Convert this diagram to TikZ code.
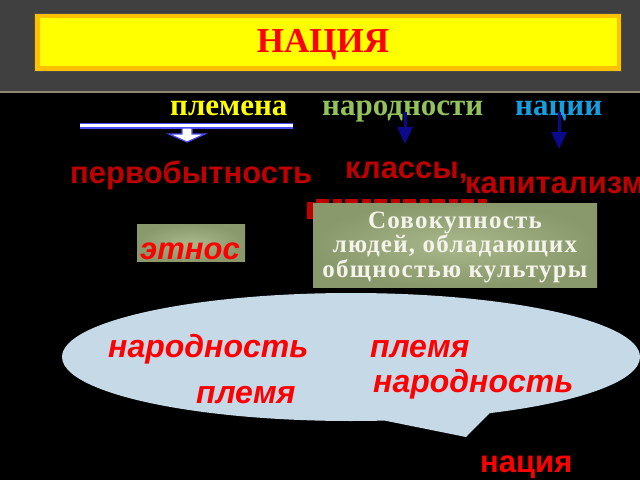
\documentclass[tikz,border=0pt]{standalone}
\usepackage{fontspec}
\setmainfont{Liberation Serif}
\newfontfamily\sansfont{Liberation Sans}
\newfontfamily\boxfont[LetterSpace=5]{Liberation Serif}
\usetikzlibrary{positioning, shapes.callouts, arrows.meta}

\definecolor{darkred}{HTML}{C00000}
\definecolor{titleorange}{HTML}{FFC000}
\definecolor{bggrey}{HTML}{404040}
\definecolor{seamline}{HTML}{8C8672}
\definecolor{tribeyellow}{HTML}{FFFF00}
\definecolor{peoplegreen}{HTML}{92C35A}
\definecolor{nationblue}{HTML}{14A0E0}
\definecolor{arrowblue}{HTML}{0A0A8C}
\definecolor{boxlight}{HTML}{A9B88B}
\definecolor{boxdark}{HTML}{8A996C}
\definecolor{boxtext}{HTML}{F4F4EC}
\definecolor{bubbleblue}{HTML}{C6D9E7}

\tikzstyle{topword} = [font=\bfseries\fontsize{31}{31}\selectfont, inner sep=0pt, anchor=base west]
\tikzstyle{eraword} = [text=darkred, font=\sansfont\bfseries\fontsize{31}{31}\selectfont, inner sep=0pt, anchor=base west]
\tikzstyle{bubbleword} = [text=red, font=\sansfont\bfseries\itshape\fontsize{32}{32}\selectfont, inner sep=0pt, anchor=base west]
\tikzstyle{greenbox} = [rectangle, inner color=boxlight, outer color=boxdark, inner sep=0pt, outer sep=0pt]
\tikzstyle{bluearrow} = [draw=arrowblue, line width=3pt, -{Triangle[width=15pt, length=17pt]}]

\begin{document}
\begin{tikzpicture}[x=1pt, y=-1pt]
    \useasboundingbox (0, 0) rectangle (640, 480);
    \fill[black] (0, 0) rectangle (640, 480);
    \fill[bggrey] (0, 0) rectangle (640, 91);
    \draw[seamline, line width=2pt] (0, 92) -- (640, 92);

    % title
    \node[rectangle, draw=black!70, line width=0.5pt, fill=titleorange, minimum width=587pt, minimum height=58pt] (titlebox) at (328, 42) {};
    \node[rectangle, fill=tribeyellow, minimum width=577pt, minimum height=48pt] at (titlebox) {};
    \node[text=red, font=\bfseries\fontsize{35}{35}\selectfont, inner sep=0pt] (title) at (323, 45) {НАЦИЯ};

    % forms of community
    \node[topword, text=tribeyellow] (tribes) at (170, 115) {племена};
    \node[topword, text=peoplegreen] (peoples) at (322, 115) {народности};
    \node[topword, text=nationblue] (nations) at (515, 115) {нации};

    \coordinate (barleft) at (80, 125.5);
    \coordinate (barright) at (293, 125.5);
    \draw[blue!70, line width=6pt] (barleft) -- (barright);
    \draw[white, line width=3pt] (barleft) -- (barright);
    \filldraw[fill=white, draw=blue!70, line width=1.2pt] (182, 128) -- (192, 128) -- (192, 134) -- (205, 134) -- (187, 142) -- (169, 134) -- (182, 134) -- cycle;

    \coordinate (peoplestart) at (405, 112);
    \coordinate (peopleend) at (405, 144);
    \coordinate (nationstart) at (559, 112);
    \coordinate (nationend) at (559, 149);
    \draw[bluearrow] (peoplestart) -- (peopleend);
    \draw[bluearrow] (nationstart) -- (nationend);

    % epochs
    \node[eraword] (primitive) at (70, 183) {первобытность};
    \node[eraword] (classes) at (345, 178) {классы,};
    \node[eraword] (capitalism) at (465, 193) {капитализм};
    \fill[darkred] (307, 202) rectangle (314, 219);
    \draw[darkred, line width=4pt, dash pattern=on 13pt off 4pt on 9pt off 3pt] (316, 201) -- (488, 201);

    % boxes
    \node[greenbox, minimum width=284pt, minimum height=84pt] (definition) at (455, 245) {};
    \node[text=boxtext, font=\boxfont\bfseries\fontsize{25}{24.5}\selectfont, align=center, inner sep=0pt] at (455, 247) {Совокупность\\людей, обладающих\\общностью культуры};
    \node[greenbox, minimum width=108pt, minimum height=37pt] (ethnosbox) at (191, 243) {};
    \node[bubbleword, font=\sansfont\bfseries\itshape\fontsize{31}{31}\selectfont] (ethnos) at (140, 259) {этнос};

    % speech bubble
    \coordinate (tail) at (466, 437);
    \node[ellipse callout, fill=bubbleblue, minimum width=578pt, minimum height=128pt, outer sep=0pt, callout absolute pointer={(tail)}, callout pointer arc=22] (bubble) at (351, 357) {};
    \node[bubbleword] (people1) at (108, 357) {народность};
    \node[bubbleword] (tribe1) at (370, 357) {племя};
    \node[bubbleword] (people2) at (373, 392) {народность};
    \node[bubbleword] (tribe2) at (196, 403) {племя};
    \node[bubbleword, font=\sansfont\bfseries\fontsize{31}{31}\selectfont] (nation) at (480, 472) {нация};
\end{tikzpicture}
\end{document}
